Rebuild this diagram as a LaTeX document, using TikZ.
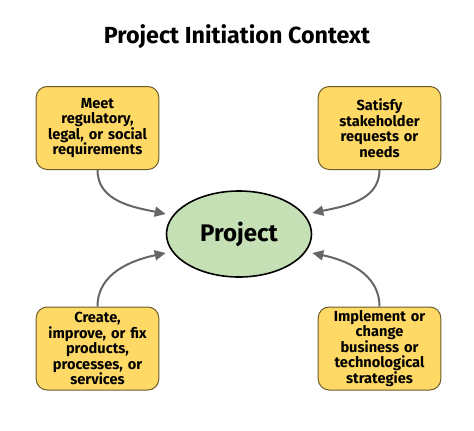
\documentclass[tikz,border=0pt]{standalone}
\usepackage{fontspec}
\setmainfont{Fira Sans}
\usetikzlibrary{arrows.meta,shapes.geometric}
\definecolor{boxfill}{HTML}{FFD966}
\definecolor{boxline}{HTML}{6B5A2A}
\definecolor{projfill}{HTML}{C5E0B4}
\definecolor{arrowgray}{HTML}{666666}
\tikzset{
  driver/.style={draw=boxline, line width=1pt, fill=boxfill, rounded corners=11pt,
    minimum width=121pt, minimum height=83pt, text width=116pt, align=center,
    font=\fontsize{14.6}{15.5}\selectfont\bfseries},
  project/.style={ellipse, draw=black, line width=1.6pt, fill=projfill,
    minimum width=145pt, minimum height=86pt, font=\fontsize{24}{28}\selectfont\bfseries},
  feed/.style={draw=arrowgray, line width=2pt, -{Triangle[length=11pt,width=10pt]}}
}
\begin{document}
\begin{tikzpicture}[x=1pt,y=-1pt]
    \useasboundingbox (0,0) rectangle (474,431);
    \node (title) at (237,37) {\fontsize{23.3}{27}\selectfont\bfseries Project Initiation Context};
    \node[project] (proj) at (239,234) {Project};
    \node[driver] (legal) at (97.5,128) {Meet\\regulatory,\\legal, or social\\requirements};
    \node[driver] (needs) at (379.5,128) {Satisfy\\stakeholder\\requests or\\needs};
    \node[driver] (fix) at (97.5,348.5) {Create,\\improve, or fix\\products,\\processes, or\\services};
    \node[driver] (strat) at (379.5,348.5) {Implement or\\change\\business or\\technological\\strategies};
    % connectors into the ellipse
    \draw[feed] (legal.south) to[out=-90,in=168] (proj.west |- 0,214);
    \draw[feed] (fix.north) to[out=90,in=-168] (proj.west |- 0,253);
    \draw[feed] (needs.south) to[out=-90,in=12] (proj.east |- 0,213);
    \draw[feed] (strat.north) to[out=90,in=-12] (proj.east |- 0,253);
\end{tikzpicture}
\end{document}
